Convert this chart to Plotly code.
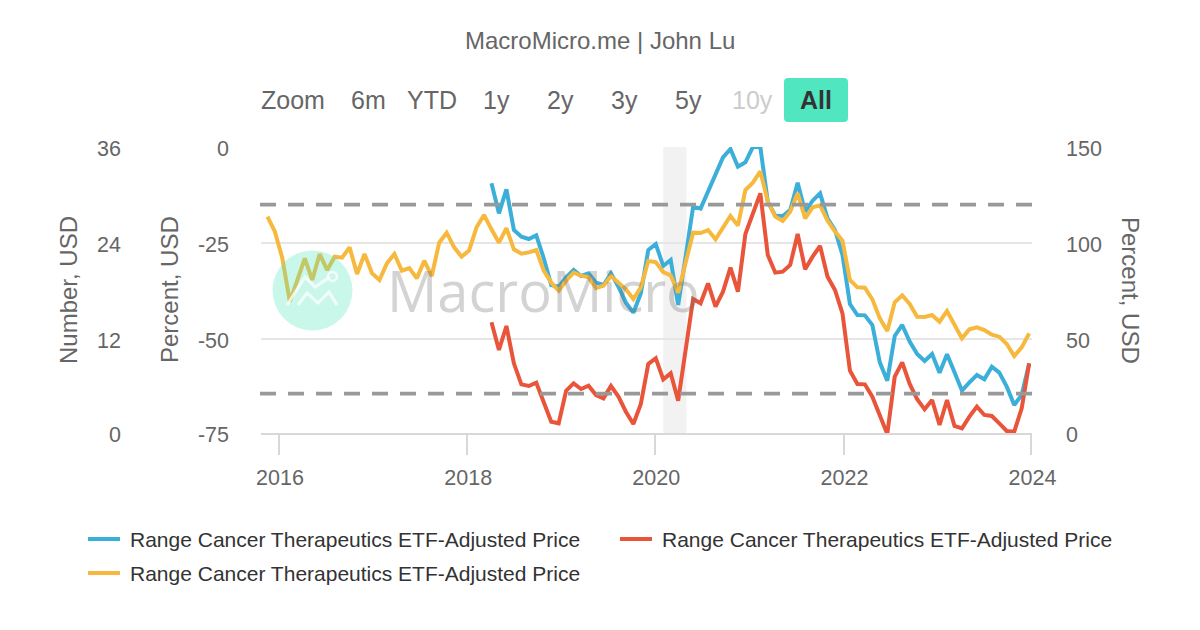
import pandas as pd
import plotly.graph_objects as go

# Monthly-ish observation dates and the three adjusted-price series
start_date = "2015-11-17"
step = "29D"

orange_number = [27.29,25.42,22.08,16.67,19.37,22.08,19.37,22.62,20.62,22.29,22.17,23.46,20.12,22.62,20.21,19.37,21.46,22.62,20.54,20.87,19.58,21.79,19.87,24.04,25.29,23.46,22.29,23.04,25.96,27.5,
 25.71,24.04,25.87,23.21,22.67,22.83,23.12,20.54,19.04,18.04,19.29,20.29,19.92,19.71,18.37,18.67,19.87,18.96,18.21,17.0,18.46,21.75,
 21.62,20.37,19.96,17.79,21.46,25.29,25.25,25.62,24.46,25.92,27.37,26.17,30.62,31.54,32.96,29.17,27.29,26.75,27.92,30.21,27.08,28.46,28.71,26.79,25.42,24.29,19.37,18.46,18.42,16.96,14.58,13.0,16.58,17.46,16.37,14.79,14.75,15.0,14.17,15.5,13.75,12.08,13.21,13.46,13.12,12.54,12.29,11.37,9.87,10.96,12.71]

blue_percent = [-9.46,-17.27,-11.02,-21.61,-23.35,-23.96,-23.0,-28.99,-35.94,-36.37,-33.94,-32.03,-33.59,-32.9,-35.33,-35.94,-32.9,-36.37,-40.54,-43.14,-38.11,-26.82,
 -25.26,-30.99,-29.43,-41.15,-28.56,-15.54,-16.06,-11.63,-7.29,-2.69,-0.52,-5.12,-3.99,0,0,-14.24,-17.88,-17.97,-16.41,-9.29,-16.84,-13.98,-12.07,-18.58,-21.61,-28.13,-40.89,-43.75,-43.84,-46.35,-56.08,-60.85,-49.22,-46.35,-50.69,-53.91,-55.73,-53.91,-58.77,-53.99,-58.68,-63.45,-61.28,-59.38,-60.5,-57.2,-58.77,-62.41,-67.19,-64.58,-56.34]

red_right = [58.68,44.27,56.77,37.33,26.39,25.52,27.26,17.36,6.94,6.08,23.09,26.91,23.96,25.69,20.83,19.1,25.52,19.97,12.15,5.73,16.15,36.98,
 39.93,28.99,32.12,17.88,44.27,70.83,68.58,78.99,66.84,74.65,87.15,74.65,104.69,114.58,125.87,93.75,84.55,85.07,88.54,104.69,86.28,92.88,98.44,82.47,75.52,63.37,33.51,26.56,26.39,19.97,9.55,0.5,30.38,37.85,26.56,18.58,13.37,18.23,5.21,18.23,4.69,3.47,9.55,14.76,10.42,9.9,6.08,2.08,1.74,13.89,37.33]

series_name = "Range Cancer Therapeutics ETF-Adjusted Price"
thresholds_right = [120, 21.5]
buttons = [("Zoom", 292.5, "#666666"), ("6m", 368, "#666666"), ("YTD", 431.5, "#666666"), ("1y", 496, "#666666"),
           ("2y", 560, "#666666"), ("3y", 624, "#666666"), ("5y", 688, "#666666"), ("10y", 752, "#cccccc")]

W, H = 1200, 630
LEFT, RIGHT, TOP, BOTTOM = 261, 1032, 147, 433
FONT = "Liberation Sans"
GREY = "#666666"
GRID = "#e6e6e6"
AXIS = "#d8d8d8"
BLUE, RED, ORANGE = "#3bafd9", "#e9553b", "#f6b93e"
LINE_WIDTH = 4


def px(x):
    return x / W


def py(y):
    return 1 - y / H


def path(points):
    return "M " + " L ".join(f"{px(x):.5f} {py(y):.5f}" for x, y in points)


def rounded_rect(x0, y0, x1, y1, r):
    def p(x, y):
        return f"{px(x):.5f} {py(y):.5f}"
    return (f"M {p(x0 + r, y0)} L {p(x1 - r, y0)} Q {p(x1, y0)} {p(x1, y0 + r)} "
            f"L {p(x1, y1 - r)} Q {p(x1, y1)} {p(x1 - r, y1)} "
            f"L {p(x0 + r, y1)} Q {p(x0, y1)} {p(x0, y1 - r)} "
            f"L {p(x0, y0 + r)} Q {p(x0, y0)} {p(x0 + r, y0)} Z")


dates = pd.date_range(start_date, periods=len(orange_number), freq=step)
pad = [None] * (len(orange_number) - len(blue_percent))

fig = go.Figure()
fig.add_trace(go.Scatter(x=dates, y=pad + blue_percent, name=series_name, mode="lines", yaxis="y",
                         line=dict(color=BLUE, width=LINE_WIDTH)))
fig.add_trace(go.Scatter(x=dates, y=pad + red_right, name=series_name, mode="lines", yaxis="y3",
                         line=dict(color=RED, width=LINE_WIDTH)))
fig.add_trace(go.Scatter(x=dates, y=orange_number, name=series_name, mode="lines", yaxis="y2",
                         line=dict(color=ORANGE, width=LINE_WIDTH)))

shapes = [
    # recession band
    dict(type="rect", xref="x", yref="paper", x0="2020-02-01", x1="2020-05-01", y0=py(BOTTOM), y1=py(TOP),
         fillcolor="#f2f2f2", line_width=0, layer="below"),
    # range-selector highlight
    dict(type="path", xref="paper", yref="paper", path=rounded_rect(784, 78, 848, 122, 4),
         fillcolor="#50e6c0", line_width=0, layer="below"),
    # watermark disc and logo strokes
    dict(type="circle", xref="paper", yref="paper", x0=px(272.5), x1=px(352.5), y0=py(330.5), y1=py(250.5),
         fillcolor="rgba(80,232,192,0.31)", line_width=0, layer="above"),
    dict(type="path", xref="paper", yref="paper", path=path([(298, 305), (307, 293), (318, 303), (329, 292), (337, 305)]),
         line=dict(color="rgba(255,255,255,0.75)", width=3), layer="above"),
    dict(type="path", xref="paper", yref="paper", path=path([(287, 305), (305, 277), (315, 287), (330, 277)]),
         line=dict(color="rgba(255,255,255,0.75)", width=3), layer="above"),
    dict(type="circle", xref="paper", yref="paper", x0=px(328), x1=px(337), y0=py(281), y1=py(272),
         line=dict(color="rgba(255,255,255,0.75)", width=2.5), layer="above"),
]
for value in thresholds_right:
    shapes.append(dict(type="line", xref="paper", yref="y3", x0=px(LEFT - 1), x1=px(RIGHT), y0=value, y1=value,
                       line=dict(color="#999999", width=3.8, dash="16px,12px")))

annotations = [
    dict(text="MacroMicro.me | John Lu", x=px(600), y=py(40), font=dict(size=24, color=GREY)),
    dict(text="MacroMicro", x=px(385), y=py(290), xanchor="left",
         font=dict(size=56, color="rgba(110,110,110,0.3)", family="Open Sans")),
    dict(text="Number, USD", x=px(69), y=py(290), textangle=-90, font=dict(size=24, color=GREY)),
    dict(text="Percent, USD", x=px(170), y=py(290), textangle=-90, font=dict(size=24, color=GREY)),
    dict(text="Percent, USD", x=px(1130), y=py(290), textangle=90, font=dict(size=24, color=GREY)),
    dict(text="<b>All</b>", x=px(816), y=py(100), font=dict(size=25, color="#333333")),
]
for label, cx, colour in buttons:
    annotations.append(dict(text=label, x=px(cx), y=py(100), font=dict(size=25, color=colour)))

# Legend rows: key stroke plus label
legend_rows = [(88, 539, BLUE), (620, 539, RED), (88, 573, ORANGE)]
for x0, y0, colour in legend_rows:
    shapes.append(dict(type="line", xref="paper", yref="paper", x0=px(x0), x1=px(x0 + 32), y0=py(y0), y1=py(y0),
                       line=dict(color=colour, width=LINE_WIDTH)))
    annotations.append(dict(text=series_name, x=px(x0 + 40), y=py(y0), xanchor="left",
                            font=dict(size=21, color="#333333")))

for a in annotations:
    a.update(xref="paper", yref="paper", showarrow=False)
    a.setdefault("xanchor", "center")
    a.setdefault("yanchor", "middle")

tick_font = dict(size=21.5, color=GREY, family=FONT)

fig.update_layout(
    width=W, height=H, margin=dict(l=0, r=0, t=0, b=0, autoexpand=False),
    paper_bgcolor="white", plot_bgcolor="white",
    font=dict(family=FONT, color=GREY),
    shapes=shapes, annotations=annotations, showlegend=False,
    xaxis=dict(domain=[px(LEFT), px(RIGHT)], type="date", range=["2015-10-23", "2024-01-03"],
               tickvals=["2016-01-01", "2018-01-01", "2020-01-01", "2022-01-01", "2024-01-01"],
               ticktext=["2016", "2018", "2020", "2022", "2024"],
               showgrid=False, showline=True, linecolor=AXIS, linewidth=1.6,
               ticks="outside", ticklen=20, tickwidth=1.6, tickcolor=AXIS, tickfont=tick_font, zeroline=False,
               ticklabelstandoff=4, ticklabelshift=1),
    yaxis=dict(domain=[py(BOTTOM), py(TOP)], range=[-74.48, 0], side="left", anchor="free", position=px(229),
               tickvals=[0, -25, -50, -74.48], ticktext=["0", "-25", "-50", "-75"],
               showgrid=True, gridcolor=GRID, gridwidth=1.6, zeroline=False, showline=False,
               tickfont=tick_font, ticklabelshift=1),
    yaxis2=dict(domain=[py(BOTTOM), py(TOP)], range=[0.25, 36], side="left", anchor="free", position=px(121),
                overlaying="y", tickvals=[36, 24, 12, 0.25], ticktext=["36", "24", "12", "0"],
                showgrid=False, zeroline=False, showline=False, tickfont=tick_font, ticklabelshift=1),
    yaxis3=dict(domain=[py(BOTTOM), py(TOP)], range=[1.04, 150], side="right", anchor="free", position=px(1065),
                overlaying="y", tickvals=[150, 100, 50, 1.04], ticktext=["150", "100", "50", "0"],
                showgrid=False, zeroline=False, showline=False, tickfont=tick_font, ticklabelshift=1),
)

fig.write_html("out.html")
